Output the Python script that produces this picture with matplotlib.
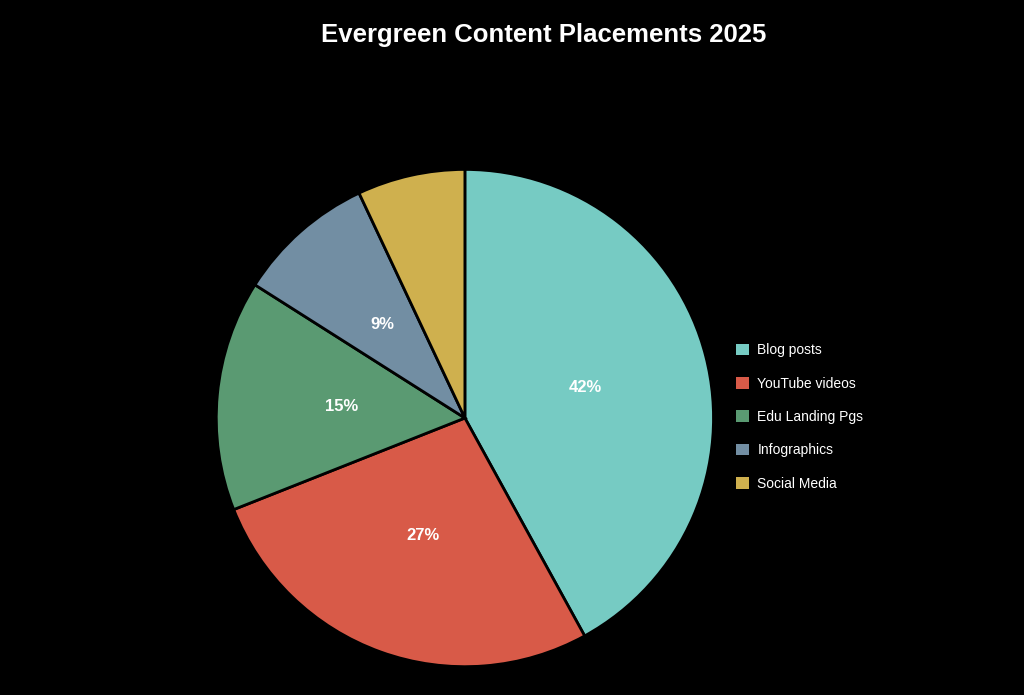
import matplotlib
matplotlib.use('Agg')
import matplotlib.pyplot as plt
from matplotlib.patches import Patch

# Datos
categorias = ['Blog posts', 'YouTube videos', 'Edu Landing Pgs', 'Infographics', 'Social Media']
valores = [42, 27, 15, 9, 7]
colores = ['#76CBC3', '#D85A48', '#5A9A72', '#728EA3', '#CFB04E']

plt.rcParams['font.family'] = ['Liberation Sans', 'DejaVu Sans']

fig = plt.figure(figsize=(10.24, 6.95), dpi=100, facecolor='black')
ax = fig.add_axes([0.21, 0.0388, 0.488, 0.7194])
ax.set_facecolor('black')

def etiqueta(p):
    return '%d%%' % round(p) if p >= 8 else ''

wedges, textos, pcts = ax.pie(valores, colors=colores, startangle=90, counterclock=False,
                              autopct=etiqueta, pctdistance=0.5,
                              wedgeprops=dict(edgecolor='black', linewidth=2))
for t in pcts:
    t.set_color('white')
    t.set_fontsize(12)
    t.set_fontweight('bold')
ax.set_xlim(-1.005, 1.005)
ax.set_ylim(-1.005, 1.005)
ax.set_aspect('equal')

fig.text(0.531, 0.949, 'Evergreen Content Placements 2025', color='white',
         fontsize=18.5, fontweight='bold', ha='center', va='center')

handles = [Patch(facecolor=c, edgecolor='none') for c in colores]
leg = fig.legend(handles, categorias, loc='center left', bbox_to_anchor=(0.707, 0.4),
                 frameon=False, fontsize=10, labelcolor='white',
                 handlelength=0.9, handleheight=0.9, handletextpad=0.6, labelspacing=1.4)

fig.savefig('out.png', dpi=100, facecolor='black')
